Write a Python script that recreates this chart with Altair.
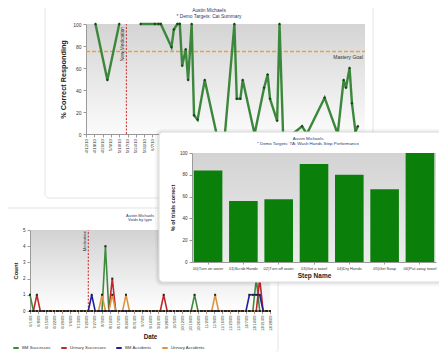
import altair as alt
import pandas as pd

FONT = "Liberation Sans"
W, H = 431, 344
NAVY = "#26396e"

# ---------------- Top panel: "* Demo Targets: Cat Summary" ----------------
top_dates = [
    "2010-04-20", "2010-04-30", "2010-05-10",
    "2010-05-28", "2010-06-09", "2010-06-12", "2010-06-14", "2010-06-23",
    "2010-06-25", "2010-06-28", "2010-06-30", "2010-07-02", "2010-07-05",
    "2010-07-07", "2010-07-10", "2010-07-12", "2010-07-15", "2010-07-21",
    "2010-07-31", "2010-08-07", "2010-08-15", "2010-08-17", "2010-08-20",
    "2010-08-22", "2010-09-01", "2010-09-09", "2010-09-12", "2010-09-14",
    "2010-09-20", "2010-09-22", "2010-09-25", "2010-10-03", "2010-10-11",
    "2010-10-15", "2010-10-30", "2010-11-10", "2010-11-15", "2010-11-17",
    "2010-11-20", "2010-11-22", "2010-11-25", "2010-11-27",
]
top_values = [
    100, 49, 100,
    100, 100, 100, 100, 79,
    95, 100, 100, 62, 77,
    49, 100, 17, 13, 49,
    0, 0, 100, 32, 32,
    49, 0, 42, 54, 32,
    12, 100, 0, 0, 7,
    0, 33, 0, 49, 42,
    60, 28, 2, 7,
]
top_start, top_end = "2010-04-12", "2010-12-03"
top_medication = "2010-05-16"
mastery_goal = 75
top_ticks = [d.strftime("%Y-%m-%d") for d in pd.date_range("2010-04-12", "2010-11-29", freq="7D")]

# ---------------- Bar panel: "TA: Wash Hands Step Performance" ----------------
step_names = ["00)Turn on water", "01)Scrub Hands", "02)Turn off water", "03)Get a towel",
              "04)Dry Hands", "05)Get Soap", "06)Put away towel"]
step_pct = [84, 56, 57.5, 90, 80, 66.7, 100]

# ---------------- Bottom panel: "Voids by type" ----------------
void_series = ["BM Successes", "Urinary Successes", "BM Accidents", "Urinary Accidents"]
void_colors = ["#3d8c3d", "#c0272d", "#1f1fa0", "#dd9440"]
void_sessions = [d.strftime("%Y-%m-%d") for d in pd.date_range("2009-06-01", "2009-12-28", freq="3D")]
void_nonzero = {
    "BM Successes": {"2009-06-01": 1, "2009-08-06": 4, "2009-10-23": 1, "2009-12-16": 2},
    "Urinary Successes": {"2009-06-07": 1, "2009-08-12": 2, "2009-09-26": 1, "2009-12-19": 2},
    "BM Accidents": {"2009-07-25": 1, "2009-12-10": 1, "2009-12-13": 1, "2009-12-16": 1, "2009-12-19": 1},
    "Urinary Accidents": {"2009-08-03": 1, "2009-08-12": 1, "2009-08-24": 1, "2009-11-10": 1},
}
void_start, void_end = "2009-06-01", "2009-12-28"
void_medication = "2009-07-22"
void_ticks = [d.strftime("%Y-%m-%d") for d in pd.date_range("2009-06-01", "2009-12-28", freq="7D")]

# ---------------- layout (pixel ranges of each plot area) ----------------
TOP_X, TOP_Y = [78, 357], [126, 16]
BAR_X, BAR_Y = [184, 428], [254, 145]
BOT_X, BOT_Y = [22, 262], [303, 222]


def dt(s):
    y, m, d = (int(p) for p in s.split("-"))
    return alt.DateTime(year=y, month=m, date=d, utc=True)


def gradient(c0, c1):
    return alt.Gradient(gradient="linear",
                        stops=[alt.GradientStop(color=c0, offset=0), alt.GradientStop(color=c1, offset=1)],
                        x1=0, x2=0, y1=0, y2=1)


one = pd.DataFrame({"k": [0]})


def box(x0, x1, y0, y1, **kw):
    return alt.Chart(one).mark_rect(**kw).encode(
        x=alt.value(x0), x2=alt.value(x1), y=alt.value(y0), y2=alt.value(y1))


def label(x, y, txt, **kw):
    return alt.Chart(one).mark_text(text=txt, **kw).encode(x=alt.value(x), y=alt.value(y))


# ====================== TOP PANEL ======================
tx = alt.Scale(type="utc", domain=[dt(top_start), dt(top_end)], range=TOP_X)
ty = alt.Scale(domain=[0, 100], range=TOP_Y)
tx_axis = alt.Axis(orient="bottom", offset=TOP_Y[0] - H, values=[dt(t) for t in top_ticks],
                   format="%-m/%-d/%y", labelAngle=-90, labelFontSize=4.3, tickSize=3,
                   labelPadding=1.5, labelFlush=False, labelOverlap=False, labelBound=False,
                   title="", zindex=0)
ty_axis = alt.Axis(orient="left", offset=-TOP_X[0], values=[0, 20, 40, 60, 80, 100],
                   labelFontSize=5, tickSize=3, title="% Correct Responding",
                   titleFontSize=7.3, titleFontWeight="bold", titlePadding=5, zindex=0)


def TX(f):
    return alt.X(f, scale=tx, axis=tx_axis)


def TY(f):
    return alt.Y(f, scale=ty, axis=ty_axis)


top_df = pd.DataFrame({
    "date": top_dates,
    "value": top_values,
    "segment": ["before" if d < top_medication else "after" for d in top_dates],
})
frame_top = pd.DataFrame({"date": [top_start], "x1": [top_end], "value": [0], "y1": [100], "goal": [mastery_goal]})
med_top = pd.DataFrame({"date": [top_medication], "value": [0], "y1": [100]})

top_card = box(37, 365, -10, 190, fill="white", fillOpacity=0, stroke="#e4e4e4", strokeWidth=1, cornerRadius=4)
top_bg = alt.Chart(frame_top).mark_rect(fill=gradient("#d4d4d4", "#fbfbfb"), xOffset=1).encode(
    x=TX("date:T"), x2="x1:T", y=TY("value:Q"), y2="y1:Q")
top_goal = alt.Chart(frame_top).mark_rule(color="#e7a23c", strokeDash=[4, 2], strokeWidth=1.3).encode(
    x=TX("date:T"), x2="x1:T", y=TY("goal:Q"))
top_goal_txt = alt.Chart(frame_top).mark_text(text="Mastery Goal", align="right", baseline="top",
                                              dx=-2, dy=3, fontSize=5, color="#333").encode(
    x=TX("x1:T"), y=TY("goal:Q"))
top_med = alt.Chart(med_top).mark_rule(color="#cc2a2a", strokeDash=[2, 1.5], strokeWidth=1).encode(
    x=TX("date:T"), y=TY("value:Q"), y2="y1:Q")
top_med_txt = alt.Chart(med_top).mark_text(text="New Medication", angle=270, align="right", baseline="bottom",
                                           dx=-3, dy=-1, fontSize=4.8, color="#333").encode(
    x=TX("date:T"), y=TY("y1:Q"))
top_line = alt.Chart(top_df).mark_line(color="#3b873b", strokeWidth=2.4).encode(
    x=TX("date:T"), y=TY("value:Q"), detail="segment:N")
top_pts = alt.Chart(top_df).mark_point(filled=True, size=9, shape="diamond", color="#1c3f1c", opacity=1).encode(
    x=TX("date:T"), y=TY("value:Q"))
top_t1 = label(201, 2.8, "Austin Michaels", fontSize=4.8, color=NAVY)
top_t2 = label(201, 8.6, "* Demo Targets: Cat Summary", fontSize=4.8, color=NAVY)

top_panel = alt.layer(top_card, top_bg, top_goal, top_goal_txt, top_med, top_med_txt,
                      top_line, top_pts, top_t1, top_t2)

# ====================== BOTTOM PANEL ======================
bx = alt.Scale(type="utc", domain=[dt(void_start), dt(void_end)], range=BOT_X)
by = alt.Scale(domain=[0, 5], range=BOT_Y)
bx_axis = alt.Axis(orient="bottom", offset=BOT_Y[0] - H, values=[dt(t) for t in void_ticks],
                   format="%-m/%-d/%y", labelAngle=-90, labelFontSize=4, tickSize=2.5,
                   labelPadding=1.5, labelFlush=False, labelOverlap=False, labelBound=False,
                   title="Date", titleFontSize=6.3, titleFontWeight="bold", titlePadding=3, zindex=0)
by_axis = alt.Axis(orient="left", offset=-BOT_X[0], values=[0, 1, 2, 3, 4, 5],
                   labelFontSize=4.5, tickSize=3, title="Count", titleFontSize=5.8,
                   titleFontWeight="bold", titlePadding=4, zindex=0)


def BX(f):
    return alt.X(f, scale=bx, axis=bx_axis)


def BY(f):
    return alt.Y(f, scale=by, axis=by_axis)


rows = []
for s in void_series:
    for d in void_sessions:
        rows.append({"date": d, "count": void_nonzero[s].get(d, 0), "series": s})
void_df = pd.DataFrame(rows)
frame_bot = pd.DataFrame({"date": [void_start], "x1": [void_end], "count": [0], "y1": [5]})
med_bot = pd.DataFrame({"date": [void_medication], "count": [0], "y1": [5]})

bot_card = box(-10, 270, 200, 345, fill="white", fillOpacity=0, stroke="#e4e4e4", strokeWidth=1, cornerRadius=4)
bot_bg = alt.Chart(frame_bot).mark_rect(fill=gradient("#d2d2d2", "#ffffff"), xOffset=1).encode(
    x=BX("date:T"), x2="x1:T", y=BY("count:Q"), y2="y1:Q")
bot_med = alt.Chart(med_bot).mark_rule(color="#cc2a2a", strokeDash=[2, 1.5], strokeWidth=1).encode(
    x=BX("date:T"), y=BY("count:Q"), y2="y1:Q")
bot_med_txt = alt.Chart(med_bot).mark_text(text="Medication", angle=270, align="right", baseline="bottom",
                                           dx=-1, dy=-1, fontSize=4.2, color="#333").encode(
    x=BX("date:T"), y=BY("y1:Q"))
bot_lines = alt.Chart(void_df).mark_line(strokeWidth=1.6).encode(
    x=BX("date:T"), y=BY("count:Q"),
    color=alt.Color("series:N", sort=void_series,
                    scale=alt.Scale(domain=void_series, range=void_colors),
                    legend=alt.Legend(orient="none", legendX=4, legendY=336, direction="horizontal",
                                      title=None, symbolType="stroke", symbolSize=30,
                                      symbolStrokeWidth=2, labelFontSize=4.3, labelOffset=2,
                                      columnPadding=6, padding=0, labelColor="#333")))
bot_pts = alt.Chart(void_df).mark_point(filled=True, size=4, shape="square", color="#222", opacity=1).encode(
    x=BX("date:T"), y=BY("count:Q"))
bot_t1 = label(132, 207.7, "Austin Michaels", fontSize=4, color=NAVY)
bot_t2 = label(132, 211.9, "Voids by type", fontSize=4, color=NAVY)

bot_panel = alt.layer(bot_card, bot_bg, bot_med, bot_med_txt, bot_lines, bot_pts, bot_t1, bot_t2)

# ====================== BAR PANEL ======================
bar_df = pd.DataFrame({"step": step_names, "pct": step_pct})
bar_shadow1 = box(147, 450, 121, 278, fill="#000000", opacity=0.04, cornerRadius=7)
bar_shadow2 = box(149, 448, 123, 276, fill="#000000", opacity=0.06, cornerRadius=5)
bar_card = box(151, 446, 124, 274, fill="white", stroke="#dddddd", strokeWidth=1, cornerRadius=4)
bar_bg = box(BAR_X[0] + 1, BAR_X[1], BAR_Y[1], BAR_Y[0], fill=gradient("#d3d3d3", "#ececec"))
bars = alt.Chart(bar_df).mark_bar(color="#0a7f0a").encode(
    x=alt.X("step:N", sort=step_names,
            scale=alt.Scale(domain=step_names, range=BAR_X, paddingInner=0.19, paddingOuter=0.05),
            axis=alt.Axis(orient="bottom", offset=BAR_Y[0] - H, labelAngle=0, labelFontSize=4,
                          labelOverlap=False, labelLimit=0, tickSize=2, labelPadding=2,
                          title="Step Name", titleFontSize=6.5, titleFontWeight="bold",
                          titlePadding=2, zindex=1)),
    y=alt.Y("pct:Q", scale=alt.Scale(domain=[0, 100], range=BAR_Y),
            axis=alt.Axis(orient="left", offset=-BAR_X[0], values=[0, 20, 40, 60, 80, 100],
                          labelFontSize=4.5, tickSize=3, title="% of trials correct",
                          titleFontSize=5.5, titleFontWeight="bold", titlePadding=4, zindex=1)))
bar_t1 = label(300, 131, "Austin Michaels", fontSize=4.4, color=NAVY)
bar_t2 = label(300, 135.8, "* Demo Targets: TA: Wash Hands Step Performance", fontSize=4.4, color=NAVY)

bar_panel = alt.layer(bar_shadow1, bar_shadow2, bar_card, bar_bg, bars, bar_t1, bar_t2)

# ====================== COMPOSE ======================
chart = alt.layer(top_panel, bot_panel, bar_panel).resolve_scale(
    x="independent", y="independent"
).properties(
    width=W, height=H, padding=0, autosize=alt.AutoSizeParams(type="none"),
    background="white",
).configure(font=FONT).configure_view(strokeWidth=0).configure_axis(
    grid=False, domainColor="#9a9a9a", tickColor="#9a9a9a", labelColor="#333333",
    titleColor="#222222", labelFont=FONT, titleFont=FONT,
)

chart.save("out.html", embed_options={"renderer": "svg", "actions": False})
